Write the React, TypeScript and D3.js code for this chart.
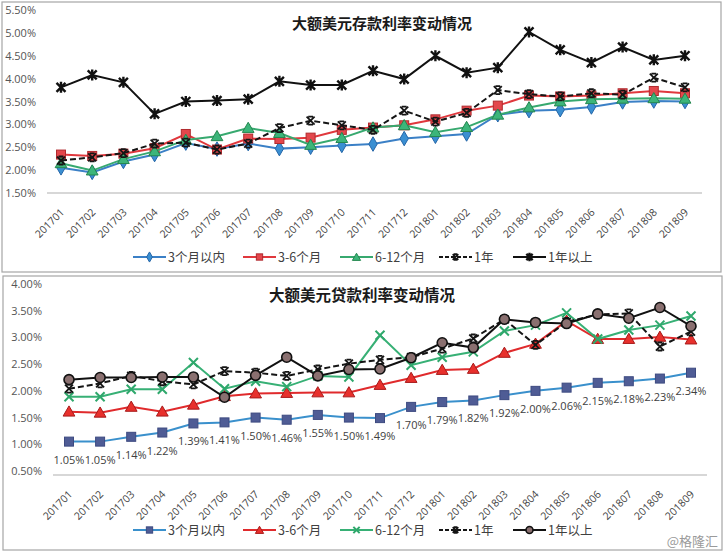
import React from 'react';
import * as d3 from 'd3';

const months = ['201701','201702','201703','201704','201705','201706','201707','201708','201709','201710','201711','201712','201801','201802','201803','201804','201805','201806','201807','201808','201809'];
const seriesNames = ['3个月以内','3-6个月','6-12个月','1年','1年以上'];

const depUnder3m = [2.05,1.95,2.19,2.34,2.59,2.46,2.58,2.47,2.50,2.54,2.57,2.69,2.74,2.79,3.21,3.30,3.32,3.38,3.49,3.51,3.50];
const dep3to6m = [2.34,2.31,2.36,2.48,2.79,2.45,2.69,2.68,2.71,2.88,2.93,2.98,3.11,3.30,3.41,3.63,3.61,3.63,3.68,3.73,3.68];
const dep6to12m = [2.15,1.99,2.24,2.41,2.66,2.74,2.92,2.81,2.55,2.70,2.93,2.98,2.83,2.94,3.21,3.37,3.50,3.55,3.56,3.57,3.56];
const dep1y = [2.21,2.28,2.37,2.58,2.60,2.45,2.58,2.92,3.08,2.98,2.88,3.30,3.06,3.25,3.75,3.66,3.61,3.68,3.65,4.02,3.81];
const depOver1y = [3.81,4.08,3.92,3.23,3.50,3.52,3.55,3.94,3.86,3.86,4.17,3.99,4.50,4.13,4.24,5.02,4.63,4.35,4.69,4.41,4.50];

const loanUnder3m = [1.05,1.05,1.14,1.22,1.39,1.41,1.50,1.46,1.55,1.50,1.49,1.70,1.79,1.82,1.92,2.00,2.06,2.15,2.18,2.23,2.34];
const loan3to6m = [1.61,1.59,1.70,1.61,1.74,1.90,1.95,1.96,1.97,1.97,2.11,2.24,2.39,2.41,2.71,2.88,3.31,2.97,2.97,3.01,2.96];
const loan6to12m = [1.89,1.89,2.03,2.03,2.53,2.04,2.18,2.08,2.28,2.26,3.04,2.48,2.63,2.73,3.12,3.23,3.46,2.97,3.14,3.23,3.40];
const loan1y = [2.04,2.14,2.28,2.18,2.12,2.37,2.34,2.28,2.40,2.51,2.58,2.63,2.79,2.98,3.34,2.86,3.29,3.43,3.45,2.83,3.11];
const loanOver1y = [2.21,2.25,2.25,2.26,2.26,1.88,2.29,2.63,2.28,2.40,2.41,2.62,2.90,2.81,3.34,3.28,3.26,3.44,3.36,3.56,3.21];

const depTicks = [1.5,2.0,2.5,3.0,3.5,4.0,4.5,5.0,5.5];
const loanTicks = [0.5,1.0,1.5,2.0,2.5,3.0,3.5,4.0];

const depTitle = '大额美元存款利率变动情况';
const loanTitle = '大额美元贷款利率变动情况';
const watermark = '@格隆汇';

const CJK = '"Noto Sans CJK SC", "Noto Sans", sans-serif';
const NUM = '"Open Sans", "Noto Sans", sans-serif';

type Style = {
  color: string; width: number; dash?: string;
  marker: string; mFill: string; mStroke: string; mSize: number;
};

function Marker({ type, x, y, s }: { type: string; x: number; y: number; s: Style }) {
  const r = s.mSize / 2;
  if (type === 'diamond') {
    const p = d3.symbol(d3.symbolDiamond, s.mSize * s.mSize * 0.75)();
    return <path d={p!} transform={`translate(${x},${y})`} fill={s.mFill} stroke={s.mStroke} strokeWidth={1} />;
  }
  if (type === 'square') {
    return <rect x={x - r} y={y - r} width={s.mSize} height={s.mSize} fill={s.mFill} stroke={s.mStroke} strokeWidth={1} />;
  }
  if (type === 'triangle') {
    const p = d3.symbol(d3.symbolTriangle, s.mSize * s.mSize * 0.6)();
    return <path d={p!} transform={`translate(${x},${y + 1})`} fill={s.mFill} stroke={s.mStroke} strokeWidth={1} />;
  }
  if (type === 'circle') {
    return <circle cx={x} cy={y} r={r} fill={s.mFill} stroke={s.mStroke} strokeWidth={1.6} />;
  }
  if (type === 'x') {
    return <path d={`M${x - r},${y - r}L${x + r},${y + r}M${x - r},${y + r}L${x + r},${y - r}`} stroke={s.mStroke} strokeWidth={2} fill="none" />;
  }
  if (type === 'xbar') {
    return <path d={`M${x - r},${y - r}L${x + r},${y + r}M${x - r},${y + r}L${x + r},${y - r}M${x - r * 0.6},${y - r}L${x + r * 0.6},${y - r}M${x - r * 0.6},${y + r}L${x + r * 0.6},${y + r}`} stroke={s.mStroke} strokeWidth={1.8} fill="none" />;
  }
  if (type === 'star') {
    return <path d={`M${x - r},${y - r}L${x + r},${y + r}M${x - r},${y + r}L${x + r},${y - r}M${x},${y - r - 1}L${x},${y + r + 1}`} stroke={s.mStroke} strokeWidth={2.4} fill="none" />;
  }
  return null;
}

type PanelProps = {
  box: [number, number, number, number];
  title: string; titleX: number; titleY: number; titleSize: number;
  ticks: number[]; yDomain: [number, number]; yRange: [number, number];
  tickLabelX: number;
  xRange: [number, number]; axisY: number; axisX: [number, number];
  series: number[][]; styles: Style[];
  labelSeries?: number;
  legendY: number; legendX: number[];
  labelOffset: number;
};

function Panel(p: PanelProps) {
  const x = d3.scalePoint<string>().domain(months).range(p.xRange);
  const y = d3.scaleLinear().domain(p.yDomain).range(p.yRange);
  const line = d3.line<number>().x((_, i) => x(months[i])!).y(d => y(d));
  const [bx, by, bw, bh] = p.box;
  return (
    <g>
      <rect x={bx} y={by} width={bw} height={bh} fill="#fff" stroke="#a6a6a6" strokeWidth={1.2} />
      <text x={p.titleX} y={p.titleY} textAnchor="middle" fontFamily={CJK} fontSize={p.titleSize} fontWeight={700} fill="#1a1a1a">{p.title}</text>
      {p.ticks.map(t => (
        <text key={t} x={p.tickLabelX} y={y(t) + 4} textAnchor="end" fontFamily={NUM} fontSize={11} fill="#555">{d3.format('.2f')(t) + '%'}</text>
      ))}
      <line x1={p.axisX[0]} x2={p.axisX[1]} y1={p.axisY} y2={p.axisY} stroke="#b0b0b0" strokeWidth={1.2} />
      {months.map(m => (
        <text key={m} transform={`translate(${x(m)! + 4},${p.axisY + 20}) rotate(-45)`} textAnchor="end" fontFamily={NUM} fontSize={10.5} fill="#444">{m}</text>
      ))}
      {p.series.map((vals, si) => {
        const s = p.styles[si];
        return (
          <g key={si}>
            <path d={line(vals)!} fill="none" stroke={s.color} strokeWidth={s.width} strokeDasharray={s.dash} />
            {vals.map((v, i) => <Marker key={i} type={s.marker} x={x(months[i])!} y={y(v)} s={s} />)}
          </g>
        );
      })}
      {p.labelSeries !== undefined && p.series[p.labelSeries].map((v, i) => (
        <text key={i} x={x(months[i])!} y={y(v) + p.labelOffset} textAnchor="middle" fontFamily={NUM} fontSize={11} fill="#404040">{d3.format('.2f')(v) + '%'}</text>
      ))}
      {seriesNames.map((n, si) => {
        const s = p.styles[si];
        const lx = p.legendX[si];
        return (
          <g key={n}>
            <line x1={lx} x2={lx + 33} y1={p.legendY} y2={p.legendY} stroke={s.color} strokeWidth={s.width} strokeDasharray={s.dash ? '4,2' : undefined} />
            <Marker type={s.marker} x={lx + 16.5} y={p.legendY} s={{ ...s, mSize: s.mSize * 0.7 }} />
            <text x={lx + 35} y={p.legendY + 4.5} fontFamily={CJK} fontSize={12.5} fill="#404040">{n}</text>
          </g>
        );
      })}
    </g>
  );
}

const depStyles: Style[] = [
  { color: '#3b80c6', width: 2, marker: 'diamond', mFill: '#3a8fd2', mStroke: '#2566a8', mSize: 9 },
  { color: '#e0383d', width: 2, marker: 'square', mFill: '#e3474c', mStroke: '#b02a2e', mSize: 9 },
  { color: '#37a96f', width: 2, marker: 'triangle', mFill: '#3cb57a', mStroke: '#25874f', mSize: 10 },
  { color: '#151515', width: 2, dash: '6,3', marker: 'xbar', mFill: 'none', mStroke: '#151515', mSize: 8 },
  { color: '#111', width: 2, marker: 'star', mFill: 'none', mStroke: '#111', mSize: 9 },
];

const loanStyles: Style[] = [
  { color: '#3a90cc', width: 2, marker: 'square', mFill: '#4f5c95', mStroke: '#3d4a80', mSize: 9 },
  { color: '#e02a2c', width: 2, marker: 'triangle', mFill: '#e8302c', mStroke: '#a81a1a', mSize: 10 },
  { color: '#37b075', width: 2, marker: 'x', mFill: 'none', mStroke: '#2fa86c', mSize: 9 },
  { color: '#151515', width: 2, dash: '6,3', marker: 'xbar', mFill: 'none', mStroke: '#151515', mSize: 8 },
  { color: '#111', width: 2, marker: 'circle', mFill: '#8a7070', mStroke: '#111', mSize: 10 },
];

export default function App() {
  return (
    <svg width={726} height={553} style={{ position: 'absolute', left: 0, top: 0, background: '#fff' }}>
      <rect x={0} y={0} width={726} height={553} fill="#fff" />
      <Panel
        box={[2, 2, 719, 270]}
        title={depTitle} titleX={382} titleY={29} titleSize={15}
        ticks={depTicks} yDomain={[1.5, 5.5]} yRange={[193, 10]} tickLabelX={36}
        xRange={[61, 685]} axisY={193} axisX={[47, 702]}
        series={[depUnder3m, dep3to6m, dep6to12m, dep1y, depOver1y]} styles={depStyles}
        legendY={257} legendX={[133, 243, 340, 439, 513]} labelOffset={0}
      />
      <Panel
        box={[3, 276, 719, 274]}
        title={loanTitle} titleX={362} titleY={301} titleSize={15.5}
        ticks={loanTicks} yDomain={[0.5, 4.0]} yRange={[471, 284]} tickLabelX={42}
        xRange={[69, 691]} axisY={475} axisX={[53, 707]}
        series={[loanUnder3m, loan3to6m, loan6to12m, loan1y, loanOver1y]} styles={loanStyles}
        labelSeries={0} labelOffset={22}
        legendY={530} legendX={[133, 243, 340, 439, 513]}
      />
      <text x={718} y={546} textAnchor="end" fontFamily={CJK} fontSize={13} fill="#9a9a9a">{watermark}</text>
    </svg>
  );
}
